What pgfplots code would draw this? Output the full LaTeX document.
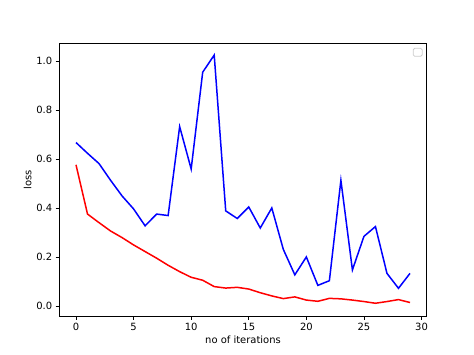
\documentclass[border=0pt]{standalone}
\usepackage{fontspec}
\setmainfont{DejaVu Sans}
\usepackage{pgfplots}
\pgfplotsset{compat=1.18}
\begin{document}
\fontsize{10}{12}\selectfont
\begin{tikzpicture}
\useasboundingbox (-59.3bp,-39bp) rectangle (414.7bp,316bp);
\begin{axis}[
  at={(0,0)}, anchor=south west,
  scale only axis, width=367.4bp, height=272.7bp,
  xmin=-1.45, xmax=30.45, ymin=-0.041, ymax=1.072,
  xtick={0,5,...,30}, ytick={0,0.2,...,1.0},
  yticklabel style={/pgf/number format/fixed,/pgf/number format/fixed zerofill,/pgf/number format/precision=1},
  /pgf/number format/assume math mode=true,
  tick align=outside, tick pos=left,
  major tick length=3.6bp,
  every tick/.style={black, line width=0.8bp},
  axis line style={line width=0.8bp},
  xlabel={no of iterations}, ylabel={loss},
  xlabel style={yshift=2bp},
  ylabel style={yshift=-2bp},
  tick label style={font=\fontsize{10}{12}\selectfont},
  label style={font=\fontsize{10}{12}\selectfont},
]
\addplot[blue, line width=1.5bp] coordinates {
(0,0.667)(1,0.623)(2,0.581)(3,0.513)(4,0.449)(5,0.396)(6,0.327)(7,0.375)(8,0.369)(9,0.732)
(10,0.559)(11,0.954)(12,1.024)(13,0.388)(14,0.357)(15,0.404)(16,0.318)(17,0.400)(18,0.231)(19,0.127)
(20,0.200)(21,0.084)(22,0.103)(23,0.513)(24,0.147)(25,0.284)(26,0.324)(27,0.133)(28,0.072)(29,0.133)};
\addplot[red, line width=1.5bp] coordinates {
(0,0.576)(1,0.375)(2,0.340)(3,0.306)(4,0.279)(5,0.249)(6,0.222)(7,0.195)(8,0.166)(9,0.140)
(10,0.117)(11,0.105)(12,0.079)(13,0.073)(14,0.076)(15,0.069)(16,0.054)(17,0.041)(18,0.030)(19,0.037)
(20,0.024)(21,0.019)(22,0.031)(23,0.029)(24,0.024)(25,0.018)(26,0.011)(27,0.018)(28,0.026)(29,0.014)};
\draw[black!20, fill=white, rounded corners=1.5bp, line width=0.8bp] ([xshift=-13.5bp,yshift=-13bp]rel axis cs:1,1) rectangle ([xshift=-4.5bp,yshift=-5bp]rel axis cs:1,1);
\end{axis}
\end{tikzpicture}
\end{document}
